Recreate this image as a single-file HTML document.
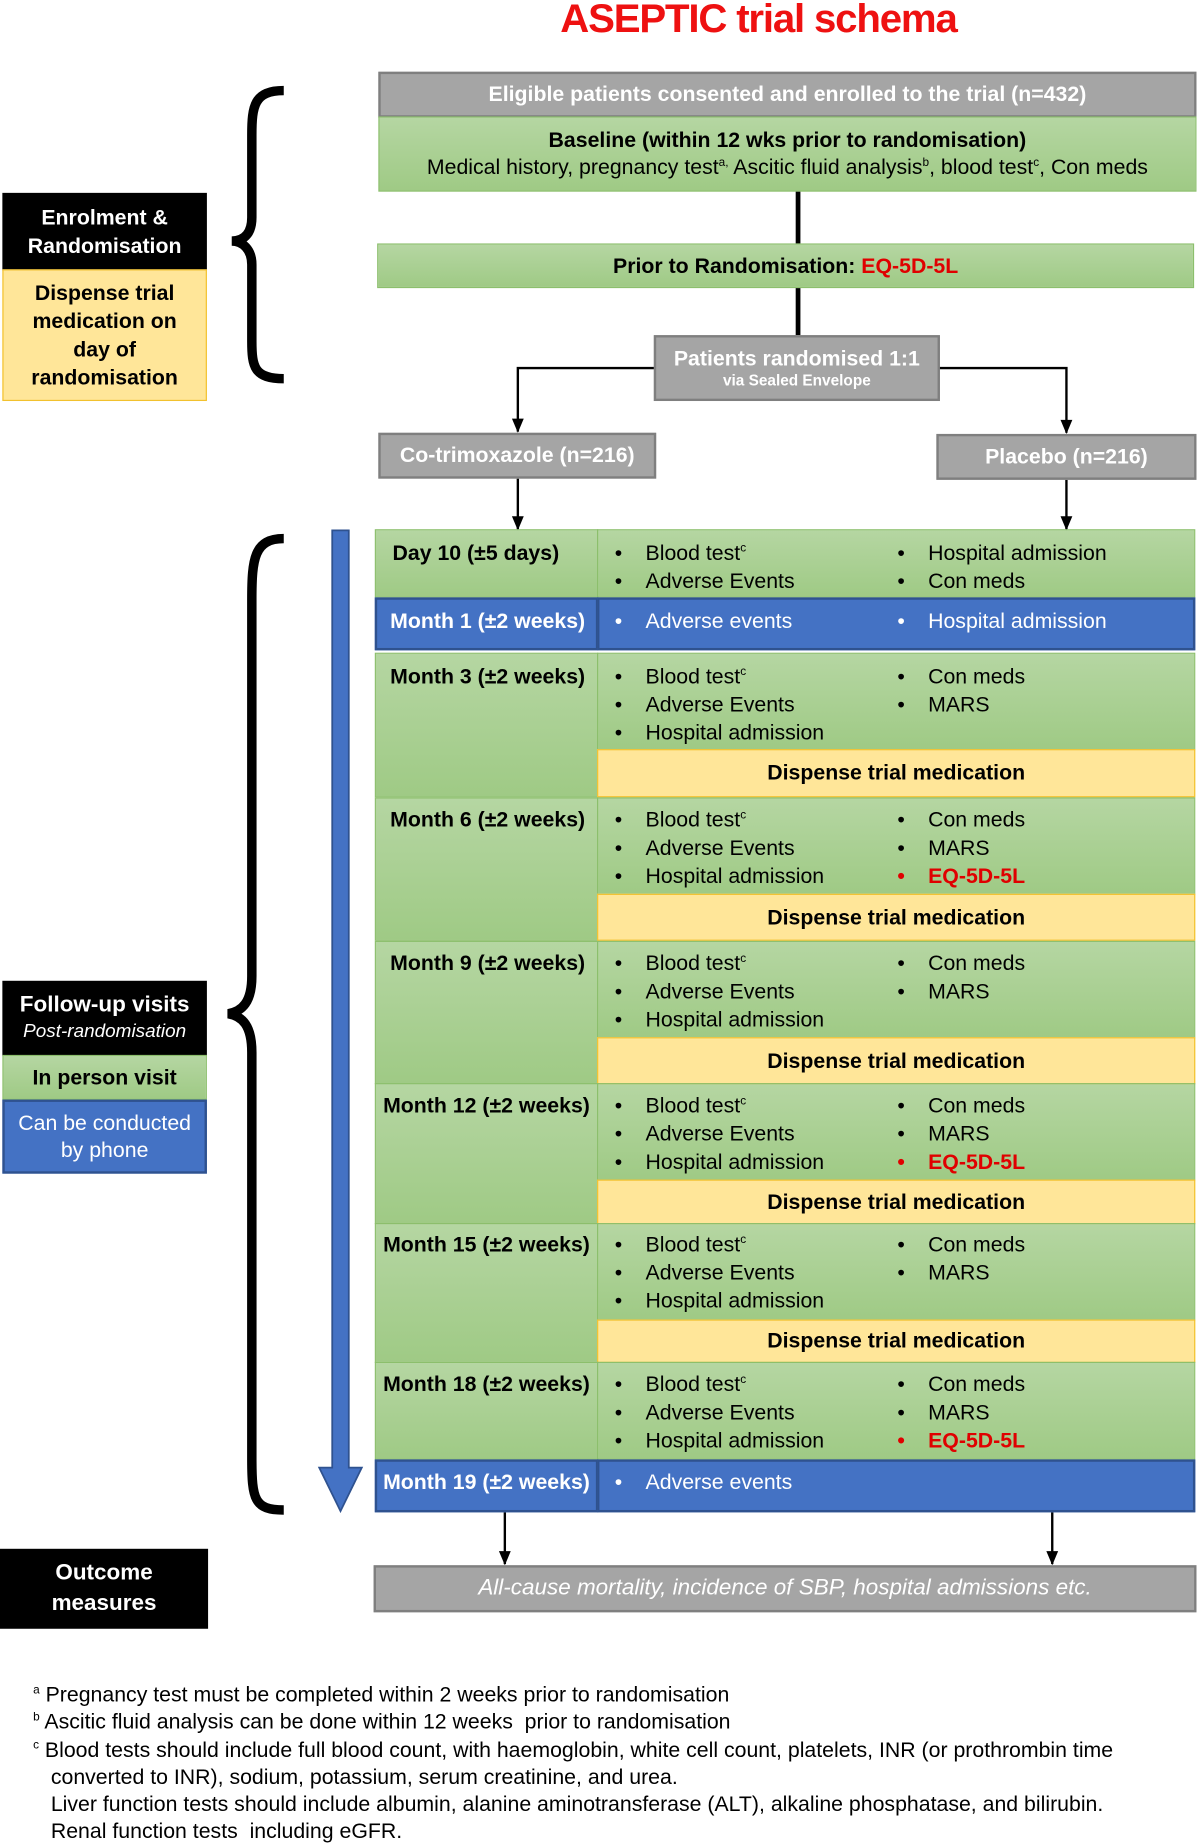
<!DOCTYPE html>
<html><head><meta charset="utf-8"><style>
html,body{margin:0;padding:0;background:#fff;width:1200px;height:1844px;overflow:hidden}
#c{position:absolute;left:0;top:0;width:1015px;height:1568px;transform:scale(1.1823,1.176);transform-origin:0 0;font-family:"Liberation Sans",sans-serif;font-size:18px;letter-spacing:0;color:#000}
.a{position:absolute;box-sizing:border-box}
.g{background:linear-gradient(#b5d6a2,#9fca85);border:1.5px solid #8cbf6c}
.b{background:#4472c4;border:2px solid #2f528f}
.y{background:#ffe699;border:1.5px solid #f2c12e}
.gr{background:#a5a5a5;border:2.5px solid #7f7f7f;color:#fff;font-weight:bold;text-align:center}
.k{background:#000;color:#fff;font-weight:bold;text-align:center}
.t{position:absolute;line-height:20px;white-space:nowrap}
.bd{font-weight:bold}
.w{color:#fff}
.r{color:#e00000;font-weight:bold}
sup{font-size:10px;line-height:0}
.ln{position:absolute;background:#000}
.ctr{display:flex;align-items:center;justify-content:center;flex-direction:column;text-align:center}
</style></head><body><div id="c">
<div class="t" style="left:0;width:1283px;top:-6px;text-align:center;font-size:34px;line-height:44px;color:#ee1111;font-weight:bold;letter-spacing:-1px">ASEPTIC trial schema</div>

<div class="a gr ctr" style="left:320px;top:61px;width:692px;height:39px">Eligible patients consented and enrolled to the trial (n=432)</div>
<div class="a g" style="left:320px;top:99px;width:692px;height:64px;text-align:center">
<div class="bd" style="margin-top:9px;line-height:20px">Baseline (within 12 wks prior to randomisation)</div>
<div style="line-height:26px">Medical history, pregnancy test<sup>a,</sup> Ascitic fluid analysis<sup>b</sup>, blood test<sup>c</sup>, Con meds</div></div>
<div class="ln" style="left:673px;top:163px;width:4px;height:44px"></div>
<div class="a g ctr bd" style="left:319px;top:207px;width:691px;height:38px">
<div>Prior to Randomisation: <span class="r">EQ-5D-5L</span></div></div>
<div class="ln" style="left:673px;top:245px;width:4px;height:40px"></div>
<div class="a gr ctr" style="left:553px;top:285px;width:242px;height:56px"><div style="line-height:22px">Patients randomised 1:1</div><div style="font-size:13px;line-height:16px">via Sealed Envelope</div></div>
<svg class="a" style="left:0;top:0" width="1015" height="1568">
<g stroke="#000" stroke-width="2" fill="none">
<path d="M553,313 H438 V367"/><path d="M795,313 H902 V368"/>
<path d="M438,407 V450"/><path d="M902,408 V450"/>
<path d="M427,1286 V1330"/><path d="M890,1286 V1330"/>
</g>
<g fill="#000">
<path d="M433,356 L443,356 L438,368z"/><path d="M897,357 L907,357 L902,369z"/>
<path d="M433,439 L443,439 L438,451z"/><path d="M897,439 L907,439 L902,451z"/>
<path d="M422,1319 L432,1319 L427,1331z"/><path d="M885,1319 L895,1319 L890,1331z"/>
</g>
<path d="M240,77 C215,77 213,90 213,115 L213,185 C213,200 205,205 196,205 C205,205 213,212 213,225 L213,290 C213,312 215,322 240,322" stroke="#000" stroke-width="8" fill="none"/>
<path d="M240,458 C215,458 213,475 213,510 L213,830 C213,852 205,860 193,862 C205,864 213,872 213,895 L213,1240 C213,1275 215,1284 240,1284" stroke="#000" stroke-width="8" fill="none"/>
<path d="M281,451 H295 V1248 H306 L288,1285 L270,1248 H281z" fill="#4472c4" stroke="#2f528f" stroke-width="1.5"/>
</svg>
<div class="a gr ctr" style="left:320px;top:368px;width:235px;height:39px">Co-trimoxazole (n=216)</div>
<div class="a gr ctr" style="left:792px;top:369px;width:220px;height:39px">Placebo (n=216)</div>

<div class="a k ctr" style="left:2px;top:164px;width:173px;height:66px;font-size:18px;line-height:24px">Enrolment &amp;<br>Randomisation</div>
<div class="a y ctr bd" style="left:2px;top:229px;width:173px;height:112px;font-size:18px;line-height:24px">Dispense trial<br>medication on<br>day of<br>randomisation</div>
<div class="a k ctr" style="left:2px;top:834px;width:173px;height:64px"><div style="font-size:19px;line-height:24px">Follow-up visits</div><div style="font-weight:normal;font-style:italic;font-size:16px;line-height:22px">Post-randomisation</div></div>
<div class="a g ctr bd" style="left:2px;top:897px;width:173px;height:38px">In person visit</div>
<div class="a b ctr w" style="left:2px;top:935px;width:173px;height:63px;line-height:23px">Can be conducted<br>by phone</div>
<div class="a k ctr" style="left:0;top:1317px;width:176px;height:68px;font-size:19px;line-height:26px">Outcome<br>measures</div>

<div class="a g" style="left:317px;top:450px;width:189px;height:58px"></div>
<div class="a g" style="left:505px;top:450px;width:506px;height:58px"></div>
<div class="a b" style="left:317px;top:508px;width:189px;height:45px"></div>
<div class="a b" style="left:505px;top:508px;width:506px;height:45px"></div>
<div class="a g" style="left:317px;top:555px;width:189px;height:123px"></div>
<div class="a g" style="left:505px;top:555px;width:506px;height:83px"></div>
<div class="a y ctr bd" style="left:505px;top:637px;width:506px;height:41px">Dispense trial medication</div>
<div class="a g" style="left:317px;top:678px;width:189px;height:122px"></div>
<div class="a g" style="left:505px;top:678px;width:506px;height:83px"></div>
<div class="a y ctr bd" style="left:505px;top:760px;width:506px;height:40px">Dispense trial medication</div>
<div class="a g" style="left:317px;top:800px;width:189px;height:122px"></div>
<div class="a g" style="left:505px;top:800px;width:506px;height:83px"></div>
<div class="a y ctr bd" style="left:505px;top:882px;width:506px;height:40px">Dispense trial medication</div>
<div class="a g" style="left:317px;top:921px;width:189px;height:120px"></div>
<div class="a g" style="left:505px;top:921px;width:506px;height:83px"></div>
<div class="a y ctr bd" style="left:505px;top:1003px;width:506px;height:38px">Dispense trial medication</div>
<div class="a g" style="left:317px;top:1040px;width:189px;height:119px"></div>
<div class="a g" style="left:505px;top:1040px;width:506px;height:83px"></div>
<div class="a y ctr bd" style="left:505px;top:1122px;width:506px;height:37px">Dispense trial medication</div>
<div class="a g" style="left:317px;top:1158px;width:189px;height:83px"></div>
<div class="a g" style="left:505px;top:1158px;width:506px;height:83px"></div>
<div class="a b" style="left:317px;top:1241px;width:189px;height:45px"></div>
<div class="a b" style="left:505px;top:1241px;width:506px;height:45px"></div>

<div class="t bd" style="left:332px;top:460px">Day 10 (±5 days)</div>
<div class="t bd w" style="left:330px;top:518px">Month 1 (±2 weeks)</div>
<div class="t bd" style="left:330px;top:565px">Month 3 (±2 weeks)</div>
<div class="t bd" style="left:330px;top:687px">Month 6 (±2 weeks)</div>
<div class="t bd" style="left:330px;top:809px">Month 9 (±2 weeks)</div>
<div class="t bd" style="left:324px;top:930px">Month 12 (±2 weeks)</div>
<div class="t bd" style="left:324px;top:1048px">Month 15 (±2 weeks)</div>
<div class="t bd" style="left:324px;top:1167px">Month 18 (±2 weeks)</div>
<div class="t bd w" style="left:324px;top:1250px">Month 19 (±2 weeks)</div>

<div class="t" style="left:520px;top:458px;line-height:24px">•<br>•</div><div class="t" style="left:546px;top:458px;line-height:24px">Blood test<sup>c</sup><br>Adverse Events</div>
<div class="t" style="left:759px;top:458px;line-height:24px">•<br>•</div><div class="t" style="left:785px;top:458px;line-height:24px">Hospital admission<br>Con meds</div>
<div class="t w" style="left:520px;top:518px">•</div><div class="t w" style="left:546px;top:518px">Adverse events</div>
<div class="t w" style="left:759px;top:518px">•</div><div class="t w" style="left:785px;top:518px">Hospital admission</div>

<div class="t" style="left:520px;top:563px;line-height:24px">•<br>•<br>•</div><div class="t" style="left:546px;top:563px;line-height:24px">Blood test<sup>c</sup><br>Adverse Events<br>Hospital admission</div>
<div class="t" style="left:759px;top:563px;line-height:24px">•<br>•</div><div class="t" style="left:785px;top:563px;line-height:24px">Con meds<br>MARS</div>

<div class="t" style="left:520px;top:685px;line-height:24px">•<br>•<br>•</div><div class="t" style="left:546px;top:685px;line-height:24px">Blood test<sup>c</sup><br>Adverse Events<br>Hospital admission</div>
<div class="t" style="left:759px;top:685px;line-height:24px">•<br>•<br><span class="r">•</span></div><div class="t" style="left:785px;top:685px;line-height:24px">Con meds<br>MARS<br><span class="r">EQ-5D-5L</span></div>

<div class="t" style="left:520px;top:807px;line-height:24px">•<br>•<br>•</div><div class="t" style="left:546px;top:807px;line-height:24px">Blood test<sup>c</sup><br>Adverse Events<br>Hospital admission</div>
<div class="t" style="left:759px;top:807px;line-height:24px">•<br>•</div><div class="t" style="left:785px;top:807px;line-height:24px">Con meds<br>MARS</div>

<div class="t" style="left:520px;top:928px;line-height:24px">•<br>•<br>•</div><div class="t" style="left:546px;top:928px;line-height:24px">Blood test<sup>c</sup><br>Adverse Events<br>Hospital admission</div>
<div class="t" style="left:759px;top:928px;line-height:24px">•<br>•<br><span class="r">•</span></div><div class="t" style="left:785px;top:928px;line-height:24px">Con meds<br>MARS<br><span class="r">EQ-5D-5L</span></div>

<div class="t" style="left:520px;top:1046px;line-height:24px">•<br>•<br>•</div><div class="t" style="left:546px;top:1046px;line-height:24px">Blood test<sup>c</sup><br>Adverse Events<br>Hospital admission</div>
<div class="t" style="left:759px;top:1046px;line-height:24px">•<br>•</div><div class="t" style="left:785px;top:1046px;line-height:24px">Con meds<br>MARS</div>

<div class="t" style="left:520px;top:1165px;line-height:24px">•<br>•<br>•</div><div class="t" style="left:546px;top:1165px;line-height:24px">Blood test<sup>c</sup><br>Adverse Events<br>Hospital admission</div>
<div class="t" style="left:759px;top:1165px;line-height:24px">•<br>•<br><span class="r">•</span></div><div class="t" style="left:785px;top:1165px;line-height:24px">Con meds<br>MARS<br><span class="r">EQ-5D-5L</span></div>

<div class="t w" style="left:520px;top:1250px">•</div><div class="t w" style="left:546px;top:1250px">Adverse events</div>

<div class="a gr ctr" style="left:316px;top:1331px;width:696px;height:40px;font-weight:normal;font-style:italic;font-size:19px">All-cause mortality, incidence of SBP, hospital admissions etc.</div>

<div class="t" style="left:28px;top:1430px;font-size:18px;line-height:23.3px">
<sup>a</sup> Pregnancy test must be completed within 2 weeks prior to randomisation<br>
<sup>b</sup> Ascitic fluid analysis can be done within 12 weeks&nbsp; prior to randomisation<br>
<sup>c</sup> Blood tests should include full blood count, with haemoglobin, white cell count, platelets, INR (or prothrombin time<br>
&nbsp;&nbsp;&nbsp;converted to INR), sodium, potassium, serum creatinine, and urea.<br>
&nbsp;&nbsp;&nbsp;Liver function tests should include albumin, alanine aminotransferase (ALT), alkaline phosphatase, and bilirubin.<br>
&nbsp;&nbsp;&nbsp;Renal function tests&nbsp; including eGFR.</div>
</div></body></html>
